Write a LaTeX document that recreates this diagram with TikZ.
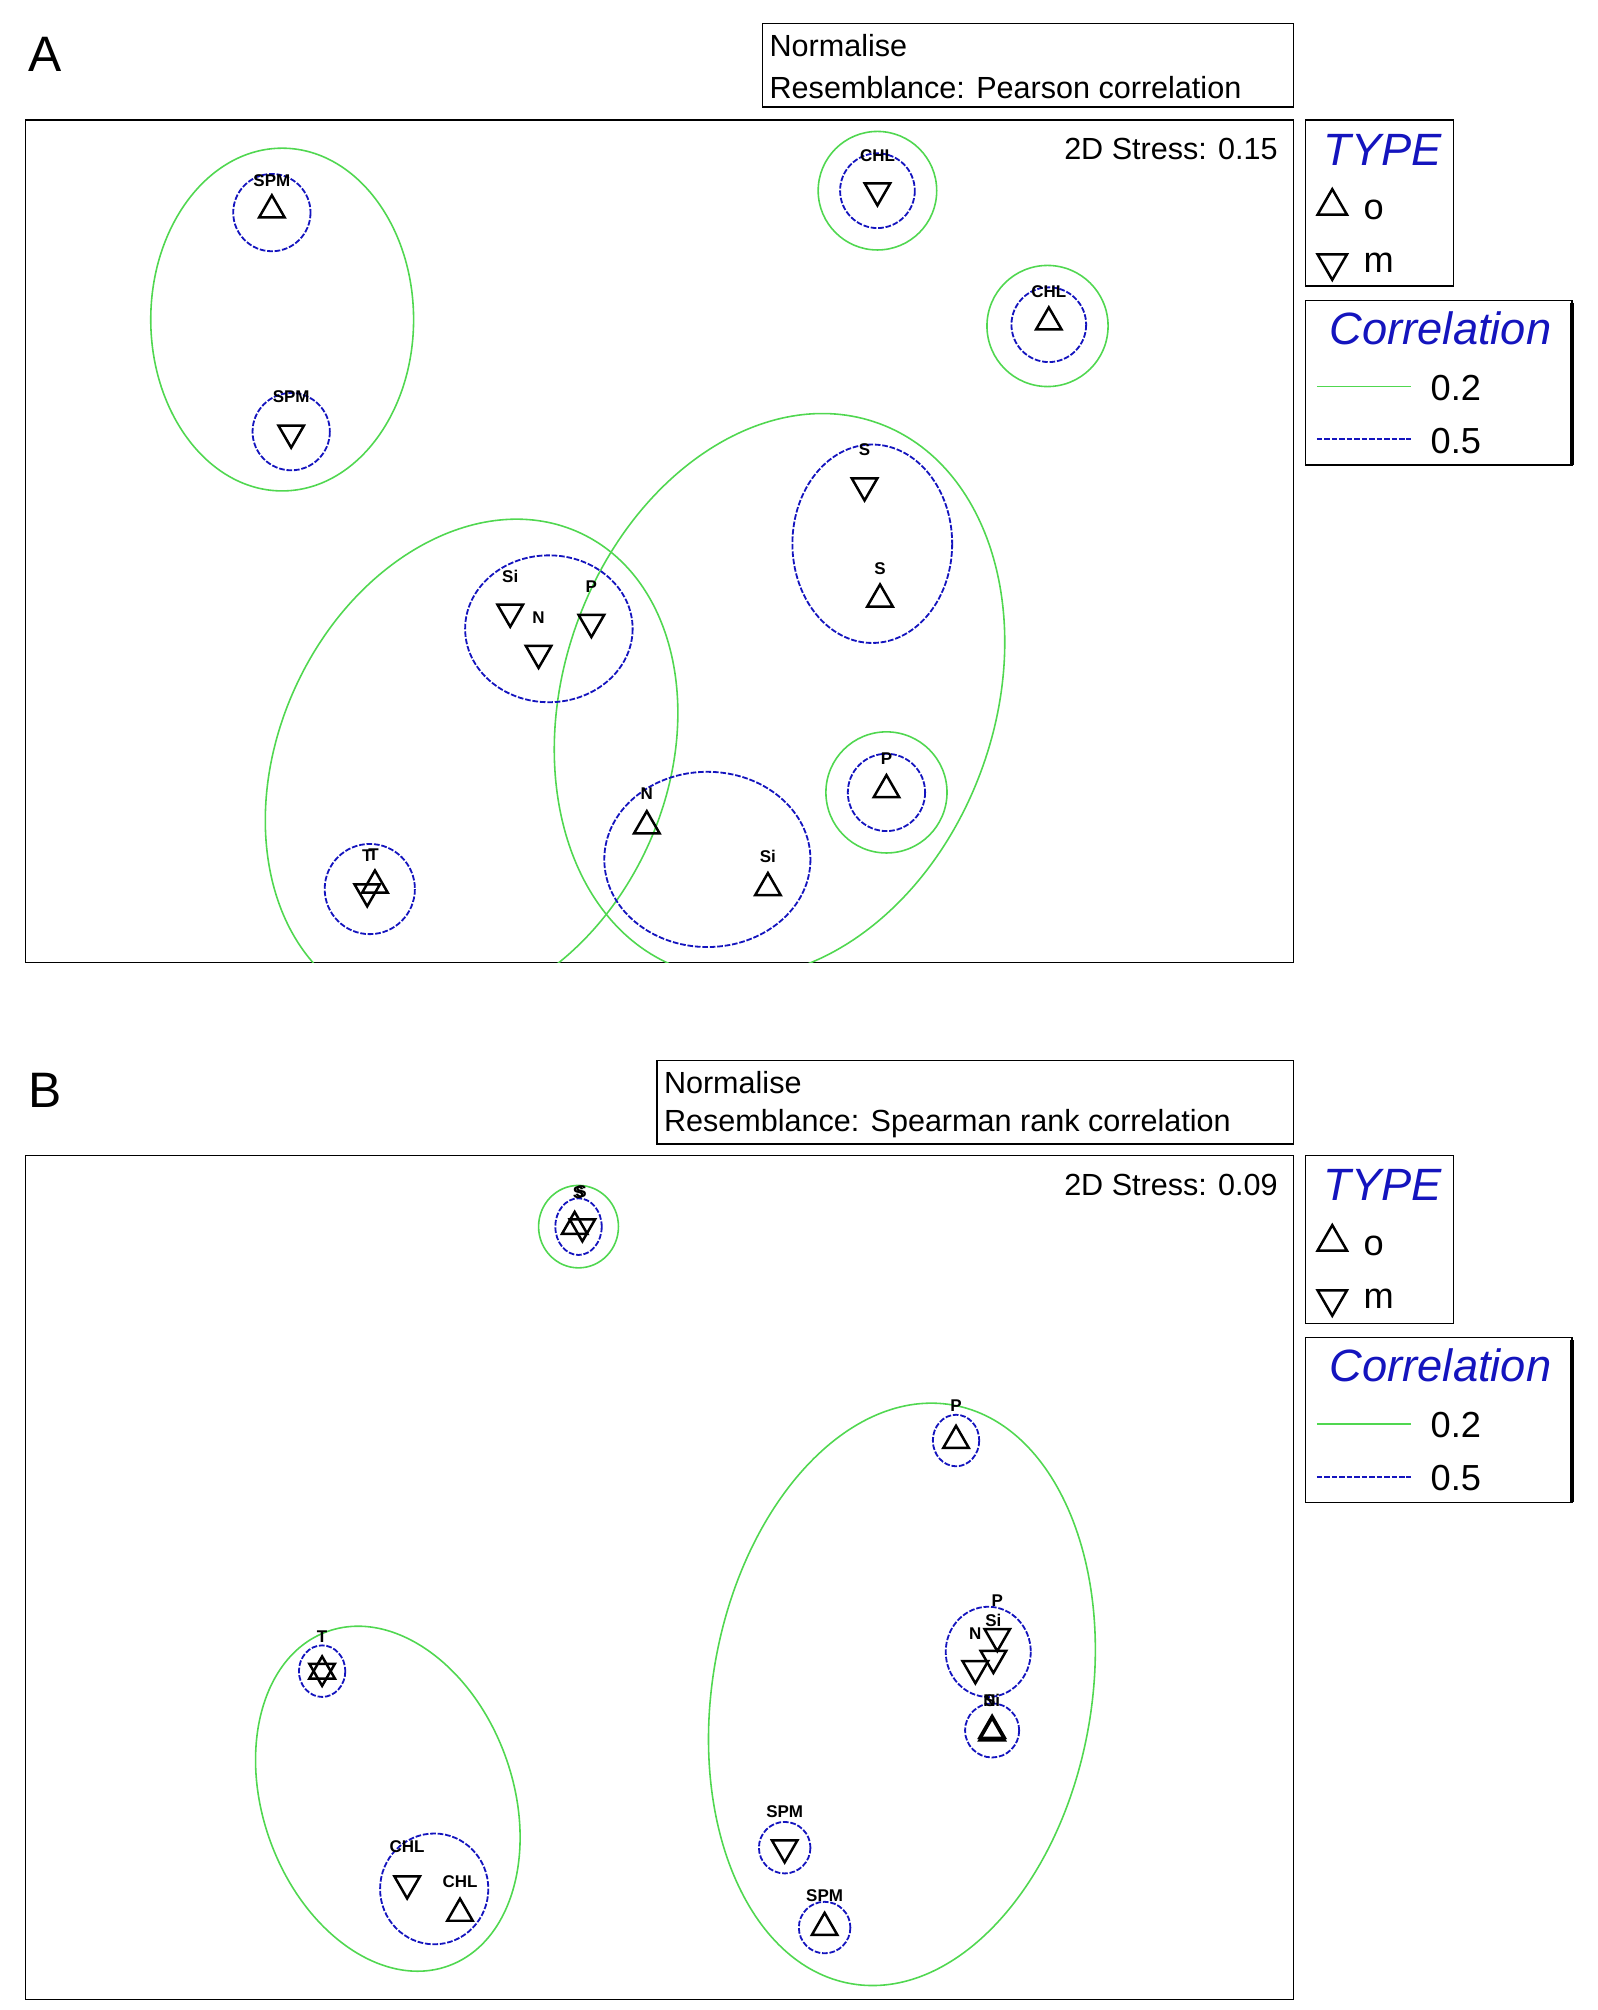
\documentclass[tikz,border=0pt]{standalone}
\usepackage{fontspec}
\setmainfont{Liberation Sans}
\usetikzlibrary{shapes.geometric}
\definecolor{grn}{RGB}{80,215,80}
\definecolor{blu}{RGB}{20,20,190}
\begin{document}
\begin{tikzpicture}
[x=0.02cm,y=-0.02cm,
box/.style={draw,line width=0.6pt},
up/.style={regular polygon,regular polygon sides=3,draw,line width=1.1pt,inner sep=0pt,minimum size=13},
down/.style={up,shape border rotate=180},
lbl/.style={font=\fontsize{7.5}{8}\selectfont\bfseries,inner sep=0pt},
g/.style={draw=grn,line width=0.7pt},
b/.style={draw=blu,line width=0.8pt,dash pattern=on 2.5pt off 0.8pt},
head/.style={font=\fontsize{13.5}{15}\selectfont,anchor=west,inner sep=0pt},
stress/.style={font=\fontsize{13.5}{15}\selectfont,anchor=east,inner sep=0pt},
legt/.style={font=\fontsize{20}{22}\selectfont\itshape,text=blu,inner sep=0pt},
legn/.style={font=\fontsize{16}{18}\selectfont,anchor=west,inner sep=0pt}]
\useasboundingbox (0,0) rectangle (1240,1560);
% ---------- panel A
\node[font=\fontsize{22}{24}\selectfont] (pa) at (35,42) {A};
\draw[box] (592,18) rectangle (1004,83);
\node[head] (norma) at (597,35) {Normalise};
\node[head] (resa) at (597,68) {Resemblance: Pearson correlation};
\draw[box] (20,93) rectangle (1004,747);
\node[stress] (stra) at (992,116) {2D Stress: 0.15};
% groups
\begin{scope}
\clip (20,93) rectangle (1004,747);
\draw[g] (219,248) ellipse [x radius=102,y radius=133];
\draw[g] (681,148) circle (46);
\draw[g] (813,253) circle (47);
\draw[g] (688,615) circle (47);
\draw[g,rotate around={-25:(366,595)}] (366,595) ellipse [x radius=150,y radius=200];
\draw[g,rotate around={-20:(605,540)}] (605,540) ellipse [x radius=167,y radius=225];
\draw[b] (211,165) circle (30);
\draw[b] (226,335) circle (30);
\draw[b] (681,148) circle (29);
\draw[b] (814,252) circle (29);
\draw[b] (688,615) circle (30);
\draw[b] (677,422) ellipse [x radius=62,y radius=77];
\draw[b] (426,488) ellipse [x radius=65,y radius=57];
\draw[b] (287,690) circle (35);
\draw[b] (549,667) ellipse [x radius=80,y radius=68];
\end{scope}
% samples
\node[up] (spmo) at (211,163) {};
\node[lbl] at (211,140) {SPM};
\node[down] (spmm) at (226,336) {};
\node[lbl] at (226,308) {SPM};
\node[down] (chlm) at (681,148) {};
\node[lbl] at (681,121) {CHL};
\node[up] (chlo) at (814,250) {};
\node[lbl] at (814,226) {CHL};
\node[down] (sm) at (671,377) {};
\node[lbl] at (671,349) {S};
\node[up] (so) at (683,465) {};
\node[lbl] at (683,441) {S};
\node[down] (sim) at (396,475) {};
\node[lbl] at (396,447) {Si};
\node[down] (nm) at (418,507) {};
\node[lbl] at (418,479) {N};
\node[down] (pm) at (459,483) {};
\node[lbl] at (459,455) {P};
\node[down] (tm) at (285,692) {};
\node[up] (to) at (291,687) {};
\node[lbl] at (285,664) {T};
\node[lbl] at (290,663) {T};
\node[up] (no) at (502,641) {};
\node[lbl] at (502,616) {N};
\node[up] (sio) at (596,689) {};
\node[lbl] at (596,665) {Si};
\node[up] (po) at (688,613) {};
\node[lbl] at (688,589) {P};
% legends
\draw[box] (1013,93) rectangle (1128,222);
\node[legt] (typea) at (1073,116) {TYPE};
\node[up,minimum size=15] (leguoa) at (1034,160) {};
\node[legn] at (1058,163) {o};
\node[down,minimum size=15] (legdma) at (1034,204) {};
\node[legn] at (1058,204) {m};
\draw[line width=2pt] (1220,235) -- (1220,361);
\draw[box] (1013,233) rectangle (1220,361);
\node[legt] (cora) at (1118,255) {Correlation};
\draw[g] (1022,300) -- (1095,300);
\node[legn] at (1110,301) {0.2};
\draw[b] (1022,341) -- (1095,341);
\node[legn] at (1110,342) {0.5};
% ---------- panel B
\node[font=\fontsize{22}{24}\selectfont] (pb) at (35,846) {B};
\draw[box] (510,823) rectangle (1004,888);
\node[head] (normb) at (515,840) {Normalise};
\node[head] (resb) at (515,872) {Resemblance: Spearman rank correlation};
\draw[box] (20,897) rectangle (1004,1552);
\node[stress] (strb) at (992,920) {2D Stress: 0.09};
% groups
\draw[g] (449,952) ellipse [x radius=31,y radius=32];
\draw[g,rotate around={-10:(700,1315)}] (700,1315) ellipse [x radius=147,y radius=228];
\draw[g,rotate around={20:(301,1396)}] (301,1396) ellipse [x radius=97,y radius=138];
\draw[b] (449,952) ellipse [x radius=18,y radius=22];
\draw[b] (742,1118) ellipse [x radius=18,y radius=20];
\draw[b] (767,1282) ellipse [x radius=33,y radius=35];
\draw[b] (770,1343) circle (21);
\draw[b] (609,1434) circle (20);
\draw[b] (640,1496) circle (20);
\draw[b] (250,1297) ellipse [x radius=18,y radius=20];
\draw[b] (337,1466) ellipse [x radius=42,y radius=43];
% samples
\node[up] (sob) at (446,952) {};
\node[down] (smb) at (452,952) {};
\node[lbl] at (449,926) {S};
\node[lbl] at (451,925) {S};
\node[up] (pob) at (742,1118) {};
\node[lbl] at (742,1091) {P};
\node[down] (pmb) at (774,1270) {};
\node[lbl] at (774,1242) {P};
\node[down] (simb) at (771,1287) {};
\node[lbl] at (771,1258) {Si};
\node[down] (nmb) at (757,1295) {};
\node[lbl] at (757,1268) {N};
\node[up] (siob) at (770,1343) {};
\node[up] (noob) at (770,1345) {};
\node[lbl] at (770,1320) {Si};
\node[lbl] at (768,1320) {N};
\node[down] (spmmb) at (609,1434) {};
\node[lbl] at (609,1406) {SPM};
\node[up] (spmob) at (640,1496) {};
\node[lbl] at (640,1471) {SPM};
\node[up] (tob) at (250,1297) {};
\node[down] (tmb) at (250,1297) {};
\node[lbl] at (250,1270) {T};
\node[down] (chlmb) at (316,1462) {};
\node[lbl] at (316,1433) {CHL};
\node[up] (chlob) at (357,1485) {};
\node[lbl] at (357,1460) {CHL};
% legends
\draw[box] (1013,897) rectangle (1128,1027);
\node[legt] (typeb) at (1073,920) {TYPE};
\node[up,minimum size=15] (leguob) at (1034,964) {};
\node[legn] at (1058,967) {o};
\node[down,minimum size=15] (legdmb) at (1034,1008) {};
\node[legn] at (1058,1008) {m};
\draw[line width=2pt] (1220,1040) -- (1220,1166);
\draw[box] (1013,1038) rectangle (1220,1166);
\node[legt] (corb) at (1118,1060) {Correlation};
\draw[g] (1022,1105) -- (1095,1105);
\node[legn] at (1110,1106) {0.2};
\draw[b] (1022,1146) -- (1095,1146);
\node[legn] at (1110,1147) {0.5};
\end{tikzpicture}
\end{document}
